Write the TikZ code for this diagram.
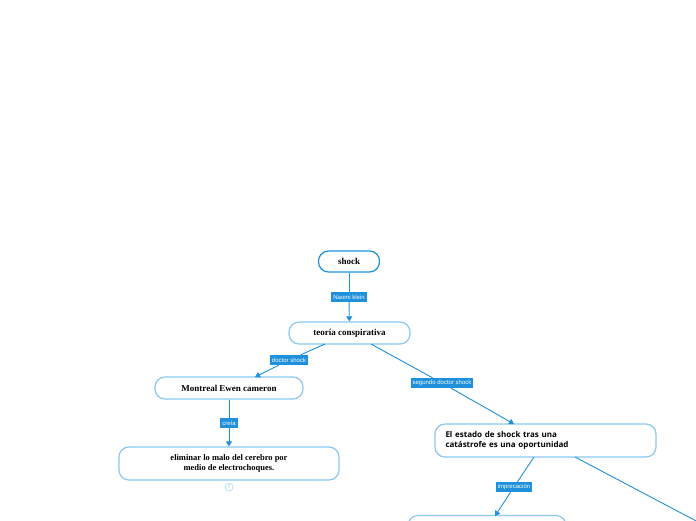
\documentclass[tikz,border=0pt]{standalone}
\usepackage{fontspec}
\setmainfont{Liberation Serif}
\newfontfamily\lblfont{Liberation Sans}
\newfontfamily\ofont{Open Sans}
\usetikzlibrary{arrows.meta}
\definecolor{edge}{HTML}{1E90DC}
\definecolor{bord}{HTML}{8CC8F0}
\tikzset{x=1pt,y=-1pt,
 box/.style={draw=bord,line width=1.2pt,rounded corners=10pt,fill=white,font=\bfseries\fontsize{9}{10}\selectfont,align=center,inner sep=0pt},
 lbl/.style={fill=edge,text=white,font=\lblfont\fontsize{6}{6}\selectfont,inner sep=2pt,minimum height=10pt},
 con/.style={draw=edge,line width=0.9pt,-{Triangle[width=6pt,length=5pt]}},
 plain/.style={draw=edge,line width=0.9pt}}
\begin{document}
\begin{tikzpicture}
\useasboundingbox (0,0) rectangle (696,520);
\clip (0,0) rectangle (696,520);
\node[box,draw=edge,minimum width=61pt,minimum height=21pt] (shock) at (349,261.5) {shock};
\node[box,minimum width=121pt,minimum height=22pt] (teo) at (349.5,333) {teoría conspirativa};
\node[box,minimum width=148pt,minimum height=22pt] (mon) at (229,388) {Montreal Ewen cameron};
\node[box,minimum width=220pt,minimum height=33pt,font=\bfseries\fontsize{8.5}{10}\selectfont] (eli) at (229,463.5) {eliminar lo malo del cerebro por\\medio de electrochoques.};
\node[draw=bord,circle,inner sep=0pt,minimum size=8pt,font=\lblfont\fontsize{5}{5}\selectfont,text=bord] (q) at (229,487) {?};
\node[box,minimum width=221pt,minimum height=33pt,align=left,font=\ofont\bfseries\fontsize{8}{10}\selectfont,text width=200pt] (est) at (545.5,440.5) {El estado de shock tras una\\catástrofe es una oportunidad};
\node[box,minimum width=158pt,minimum height=33pt] (bot) at (487,532) {};
\coordinate (off) at (700,523);
\node[lbl] (l1) at (349,297) {Naomi klein};
\node[lbl] (l2) at (289,360) {doctor shock};
\node[lbl] (l3) at (442,383) {segundo doctor shock};
\node[lbl] (l4) at (229,423) {creía};
\node[lbl] (l5) at (514,487) {imprecación};
\draw[plain] (shock) -- (l1); \draw[con] (l1) -- (teo);
\draw[plain] (325,344) -- (l2); \draw[con] (l2) -- (255,377);
\draw[plain] (371,344) -- (l3); \draw[con] (l3) -- (514,424);
\draw[plain] (mon) -- (l4); \draw[con] (l4) -- (eli);
\draw[plain] (534,457) -- (l5); \draw[con] (l5) -- (495,516);
\draw[con] (575,457) -- (off);
\end{tikzpicture}
\end{document}
